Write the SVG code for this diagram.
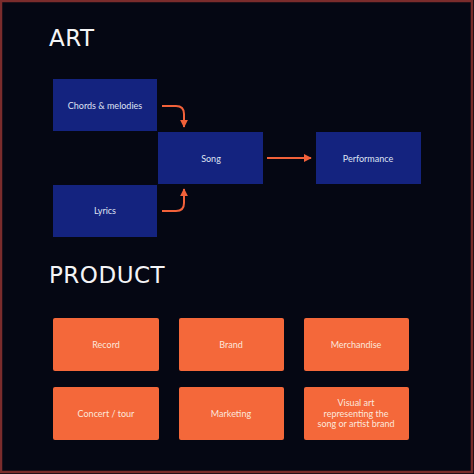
<svg xmlns="http://www.w3.org/2000/svg" width="474" height="474" viewBox="0 0 474 474">
<defs>
<style>
.title{font-family:"DejaVu Sans",sans-serif;font-size:23px;fill:#f4f4f6;letter-spacing:0.5px}
.art rect{fill:#14237f}
.art text{font-family:"Lato","Noto Sans",sans-serif;font-size:9px;fill:#dfe2f2;text-anchor:middle}
.prod rect{fill:#f4683a}
.prod text{font-family:"Lato","Noto Sans",sans-serif;font-size:9px;fill:#fbe7dc;text-anchor:middle}
.conn path{fill:none;stroke:#f2613a;stroke-width:2}
</style>
<marker id="ah" viewBox="0 0 10 10" refX="9" refY="5" markerWidth="4" markerHeight="4" orient="auto" markerUnits="strokeWidth">
<path d="M0,0 L10,5 L0,10 z" fill="#f2613a"/>
</marker>
</defs>
<rect x="0" y="0" width="474" height="474" fill="#050713"/>
<rect x="1" y="1" width="471" height="471" fill="none" stroke="#7b2c2c" stroke-width="2.5"/>
<text class="title" x="49" y="46">ART</text>
<text class="title" x="49" y="283">PRODUCT</text>
<g class="art">
<g id="chords"><rect x="53" y="79" width="104" height="52"/><text x="105" y="109">Chords &amp; melodies</text></g>
<g id="song"><rect x="158" y="132" width="105" height="52"/><text x="211" y="162">Song</text></g>
<g id="lyrics"><rect x="53" y="185" width="104" height="52"/><text x="105" y="214">Lyrics</text></g>
<g id="performance"><rect x="316" y="132" width="105" height="52"/><text x="368" y="162">Performance</text></g>
</g>
<g class="conn">
<path d="M162,106 H176 Q184,106 184,114 V127" marker-end="url(#ah)"/>
<path d="M162,211 H176 Q184,211 184,203 V189" marker-end="url(#ah)"/>
<path d="M267,158 H311" marker-end="url(#ah)"/>
</g>
<g class="prod">
<g id="record"><rect x="53" y="318" width="106" height="53" rx="2"/><text x="106" y="348">Record</text></g>
<g id="brand"><rect x="179" y="318" width="105" height="53" rx="2"/><text x="231" y="348">Brand</text></g>
<g id="merch"><rect x="304" y="318" width="105" height="53" rx="2"/><text x="356" y="348">Merchandise</text></g>
<g id="concert"><rect x="53" y="387" width="106" height="53" rx="2"/><text x="106" y="417">Concert / tour</text></g>
<g id="marketing"><rect x="179" y="387" width="105" height="53" rx="2"/><text x="231" y="417">Marketing</text></g>
<g id="visual"><rect x="304" y="387" width="105" height="53" rx="2"/><text x="356" y="406">Visual art</text><text x="356" y="417">representing the</text><text x="356" y="427">song or artist brand</text></g>
</g>
</svg>
